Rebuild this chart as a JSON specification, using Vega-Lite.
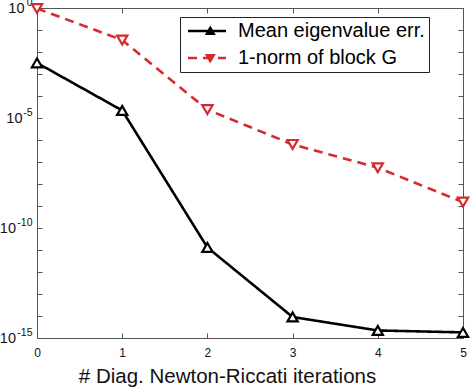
{
  "$schema": "https://vega.github.io/schema/vega-lite/v6.json",
  "width": 426,
  "height": 330,
  "autosize": "none",
  "padding": {"left": 37, "top": 8, "right": 11, "bottom": 49},
  "background": "white",
  "config": {"view": {"stroke": null}, "font": "Liberation Sans", "axis": {"grid": false}},
  "data": {"values": [
    {"it": 0, "val": 3.2e-3, "series": "Mean eigenvalue err."},
    {"it": 1, "val": 2.2e-5, "series": "Mean eigenvalue err."},
    {"it": 2, "val": 1.3e-11, "series": "Mean eigenvalue err."},
    {"it": 3, "val": 9.0e-15, "series": "Mean eigenvalue err."},
    {"it": 4, "val": 2.2e-15, "series": "Mean eigenvalue err."},
    {"it": 5, "val": 1.8e-15, "series": "Mean eigenvalue err."},
    {"it": 0, "val": 0.95, "series": "1-norm of block G"},
    {"it": 1, "val": 3.5e-2, "series": "1-norm of block G"},
    {"it": 2, "val": 2.4e-5, "series": "1-norm of block G"},
    {"it": 3, "val": 6.3e-7, "series": "1-norm of block G"},
    {"it": 4, "val": 5.5e-8, "series": "1-norm of block G"},
    {"it": 5, "val": 1.5e-9, "series": "1-norm of block G"}
  ]},
  "layer": [
    {
      "mark": {"type": "line", "strokeWidth": 2.6},
      "encoding": {
        "x": {"field": "it", "type": "quantitative",
          "scale": {"domain": [0, 5], "nice": false, "zero": false},
          "axis": {"orient": "bottom", "values": [0, 1, 2, 3, 4, 5], "tickSize": -5, "labelPadding": 14,
            "labelFontSize": 12, "labelColor": "#111", "domainColor": "#555", "tickColor": "#555",
            "labelFlush": false, "title": "# Diag. Newton-Riccati iterations", "titleFontSize": 20.5,
            "titleFontWeight": "normal", "titleColor": "#111", "titleX": 190, "titleY": 38,
            "titleBaseline": "middle", "titleAlign": "center"}},
        "y": {"field": "val", "type": "quantitative",
          "scale": {"type": "log", "domain": [1e-15, 1], "nice": false},
          "axis": {"orient": "left",
            "values": [1, 0.1, 0.01, 0.001, 0.0001, 1e-5, 1e-6, 1e-7, 1e-8, 1e-9, 1e-10, 1e-11, 1e-12, 1e-13, 1e-14, 1e-15],
            "tickSize": -5, "labelFontSize": 14.5, "labelColor": "#111",
            "labelPadding": {"condition": [{"test": "datum.value > 0.5", "value": 18}, {"test": "datum.value > 1e-7", "value": 20}], "value": 26.5},
            "domainColor": "#555", "tickColor": "#555", "title": null, "labelFlush": false,
            "labelExpr": "round(log(datum.value)/LN10) % 5 === 0 ? '10' : ''"}},
        "stroke": {"field": "series", "type": "nominal",
          "scale": {"domain": ["Mean eigenvalue err.", "1-norm of block G"], "range": ["#000000", "#d62a2e"]},
          "legend": {"orient": "none", "legendX": 143, "legendY": 9, "title": null, "padding": 4,
            "fillColor": "white", "strokeColor": "#222", "symbolType": "M-1.2,0H6.4", "symbolSize": 100,
            "symbolStrokeWidth": 2.5, "labelOffset": 34, "labelFontSize": 20, "labelColor": "#000",
            "labelLimit": 400, "rowPadding": 7, "zindex": 1,
            "labelExpr": "datum.label + '\u00a0\u00a0\u00a0\u00a0\u00a0'"}},
        "strokeDash": {"field": "series", "type": "nominal",
          "scale": {"domain": ["Mean eigenvalue err.", "1-norm of block G"], "range": [[1, 0], [9, 6]]},
          "legend": {"orient": "none", "legendX": 143, "legendY": 9, "title": null, "padding": 4,
            "fillColor": "white", "strokeColor": "#222", "symbolType": "M-1.2,0H6.4", "symbolSize": 100,
            "symbolStrokeWidth": 2.5, "labelOffset": 34, "labelFontSize": 20, "labelColor": "#000",
            "labelLimit": 400, "rowPadding": 7, "zindex": 1,
            "labelExpr": "datum.label + '\u00a0\u00a0\u00a0\u00a0\u00a0'"}}
      }
    },
    {
      "mark": {"type": "point", "filled": false, "fill": "white", "strokeWidth": 2.2, "size": 105, "opacity": 1},
      "encoding": {
        "x": {"field": "it", "type": "quantitative",
          "scale": {"domain": [0, 5], "nice": false, "zero": false},
          "axis": {"orient": "top", "values": [0, 1, 2, 3, 4, 5], "tickSize": -5, "labels": false,
            "domainColor": "#555", "tickColor": "#555", "title": null}},
        "y": {"field": "val", "type": "quantitative",
          "scale": {"type": "log", "domain": [1e-15, 1], "nice": false},
          "axis": {"orient": "right",
            "values": [1, 0.1, 0.01, 0.001, 0.0001, 1e-5, 1e-6, 1e-7, 1e-8, 1e-9, 1e-10, 1e-11, 1e-12, 1e-13, 1e-14, 1e-15],
            "tickSize": -5, "labels": false, "domainColor": "#555", "tickColor": "#555", "title": null}},
        "color": {"field": "series", "type": "nominal", "sort": "descending",
          "scale": {"range": ["#000000", "#d62a2e"]},
          "legend": {"orient": "none", "legendX": 159.3, "legendY": 9, "title": null, "padding": 4,
            "symbolSize": 30, "symbolStrokeWidth": 3.2, "labelFontSize": 20, "labelOpacity": 0, "labelLimit": 400,
            "rowPadding": 7, "zindex": 2}},
        "shape": {"field": "series", "type": "nominal", "sort": "descending",
          "scale": {"range": ["triangle-up", "triangle-down"]},
          "legend": {"orient": "none", "legendX": 159.3, "legendY": 9, "title": null, "padding": 4,
            "symbolSize": 30, "symbolStrokeWidth": 3.2, "labelFontSize": 20, "labelOpacity": 0, "labelLimit": 400,
            "rowPadding": 7, "zindex": 2}}
      }
    },
    {
      "mark": {"type": "point", "opacity": 0},
      "encoding": {
        "x": {"field": "it", "type": "quantitative",
          "scale": {"domain": [0, 5], "nice": false, "zero": false}, "axis": null},
        "y": {"field": "val", "type": "quantitative",
          "scale": {"type": "log", "domain": [1e-15, 1], "nice": false},
          "axis": {"orient": "left",
            "values": [1, 1e-5, 1e-10, 1e-15],
            "tickSize": -5, "tickOpacity": 0, "domain": false, "labelPadding": 10, "labelFontSize": 10.5,
            "labelColor": "#111", "labelOffset": -6, "title": null, "labelFlush": false,
            "labelExpr": "'' + round(log(datum.value)/LN10)"}}
      }
    }
  ],
  "resolve": {"axis": {"x": "independent", "y": "independent"}}
}
